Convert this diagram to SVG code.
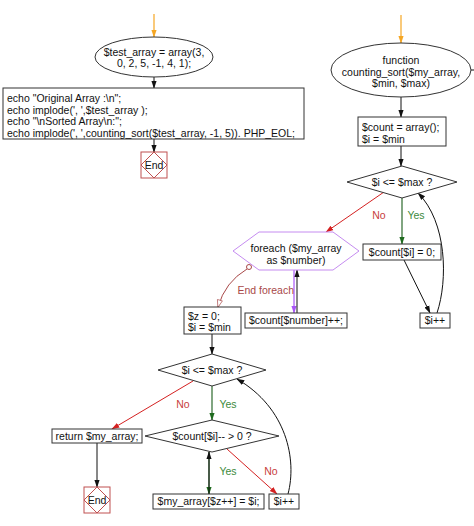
<svg xmlns="http://www.w3.org/2000/svg" width="474" height="526" viewBox="0 0 474 526">
<style>
text{font-family:"Liberation Sans",Arial,sans-serif;font-size:10.5px;fill:#111}
.c{text-anchor:middle}
.box{fill:#fff;stroke:#333;stroke-width:1}
.shape{fill:#fff;stroke:#333;stroke-width:1}
.hex{fill:#fff;stroke:#c58cf0;stroke-width:1}
.endb{fill:#fff;stroke:#c05050;stroke-width:1}
.k{fill:none;stroke:#111;stroke-width:1}
.g{fill:none;stroke:#2d6a2d;stroke-width:1.2}
.r{fill:none;stroke:#d42020;stroke-width:1}
.o{fill:none;stroke:#f5a623;stroke-width:1.2}
.p{fill:none;stroke:#a855f7;stroke-width:1.2}
.br{fill:none;stroke:#a84848;stroke-width:1}
.lno{fill:#c84040}
.lyes{fill:#3c8a3c}
.lef{fill:#a84848}
</style>
<defs>
<marker id="ak" markerWidth="8" markerHeight="12" refX="11" refY="4" viewBox="0 0 12 8" orient="auto" markerUnits="userSpaceOnUse"><path d="M0,0 L12,4 L0,8 z" fill="#111"/></marker>
<marker id="ag" markerWidth="8" markerHeight="12" refX="11" refY="4" viewBox="0 0 12 8" orient="auto" markerUnits="userSpaceOnUse"><path d="M0,0 L12,4 L0,8 z" fill="#1f6b1f"/></marker>
<marker id="ar" markerWidth="8" markerHeight="12" refX="11" refY="4" viewBox="0 0 12 8" orient="auto" markerUnits="userSpaceOnUse"><path d="M0,0 L12,4 L0,8 z" fill="#d42020"/></marker>
<marker id="ao" markerWidth="8" markerHeight="12" refX="11" refY="4" viewBox="0 0 12 8" orient="auto" markerUnits="userSpaceOnUse"><path d="M0,0 L12,4 L0,8 z" fill="#f5a623"/></marker>
<marker id="ap" markerWidth="8" markerHeight="12" refX="11" refY="4" viewBox="0 0 12 8" orient="auto" markerUnits="userSpaceOnUse"><path d="M0,0 L12,4 L0,8 z" fill="#a855f7"/></marker>
<marker id="aopen" markerWidth="9" markerHeight="13" refX="11" refY="4" viewBox="-1 -1 14 10" orient="auto" markerUnits="userSpaceOnUse"><path d="M0,0 L12,4 L0,8 z" fill="#fff" stroke="#a84848" stroke-width="1"/></marker>
</defs>

<g id="connectors">
<line class="o" x1="154" y1="14" x2="154" y2="37" marker-end="url(#ao)"/>
<line class="k" x1="154" y1="77" x2="154" y2="88" marker-end="url(#ak)"/>
<line class="k" x1="154" y1="139" x2="154" y2="152" marker-end="url(#ak)"/>
<line class="o" x1="401" y1="15" x2="401" y2="43" marker-end="url(#ao)"/>
<line class="k" x1="401" y1="97" x2="401" y2="117" marker-end="url(#ak)"/>
<line class="k" x1="401" y1="146" x2="401" y2="166" marker-end="url(#ak)"/>
<line class="k" x1="471" y1="70" x2="474" y2="70"/>
<line class="r" x1="384" y1="192" x2="326" y2="232" marker-end="url(#ar)"/>
<line class="g" x1="402" y1="198" x2="402" y2="244" marker-end="url(#ag)"/>
<line class="k" x1="404" y1="260" x2="430" y2="313" marker-end="url(#ak)"/>
<path class="k" d="M437,313 C448,280 447,222 418,193" marker-end="url(#ak)"/>
<line class="p" x1="294" y1="270" x2="294" y2="313" marker-end="url(#ap)"/>
<line class="k" x1="297" y1="313" x2="297" y2="270" marker-end="url(#ak)"/>
<circle cx="249" cy="267" r="2.5" fill="#fff" stroke="#a84848" stroke-width="1"/>
<path class="br" d="M247,269 Q225,282 218,307" marker-end="url(#aopen)"/>
<line class="k" x1="212" y1="334" x2="212" y2="354" marker-end="url(#ak)"/>
<line class="r" x1="193" y1="381" x2="112" y2="429" marker-end="url(#ar)"/>
<line class="g" x1="212" y1="386" x2="212" y2="420" marker-end="url(#ag)"/>
<line class="k" x1="97" y1="443" x2="97" y2="487" marker-end="url(#ak)"/>
<line class="g" x1="209" y1="452" x2="209" y2="494" marker-end="url(#ag)"/>
<line class="k" x1="209" y1="494" x2="209" y2="452" marker-end="url(#ak)"/>
<line class="r" x1="227" y1="449" x2="277" y2="494" marker-end="url(#ar)"/>
<path class="k" d="M288,494 C297,460 287,408 237,379" marker-end="url(#ak)"/>
<text class="c lno" x="379" y="219">No</text>
<text class="c lyes" x="416" y="219">Yes</text>
<text class="lef" x="294" y="294" text-anchor="end">End foreach</text>
<text class="c lno" x="183" y="408">No</text>
<text class="c lyes" x="228" y="408">Yes</text>
<text class="c lyes" x="228" y="475">Yes</text>
<text class="c lno" x="271" y="475">No</text>
</g>

<g id="start1">
<ellipse class="shape" cx="154" cy="57" rx="59" ry="20"/>
<text class="c" x="154" y="56">$test_array = array(3,</text>
<text class="c" x="154" y="67">0, 2, 5, -1, 4, 1);</text>
</g>

<g id="echo">
<rect class="box" x="3" y="88" width="301" height="51"/>
<text x="7" y="102">echo "Original Array :\n";</text>
<text x="7" y="113.5">echo implode(', ',$test_array );</text>
<text x="7" y="125">echo "\nSorted Array\n:";</text>
<text x="7" y="136.5">echo implode(', ',counting_sort($test_array, -1, 5)). PHP_EOL;</text>
</g>

<g id="end1">
<rect class="endb" x="141" y="152" width="26" height="26"/>
<path class="endb" d="M154,152 L167,165 L154,178 L141,165 z"/>
<text class="c" x="154" y="169">End</text>
</g>

<g id="func">
<ellipse class="shape" cx="401" cy="70" rx="70" ry="27"/>
<text class="c" x="401" y="64">function</text>
<text class="c" x="401" y="76">counting_sort($my_array,</text>
<text class="c" x="401" y="87">$min, $max)</text>
</g>

<g id="init">
<rect class="box" x="358" y="117" width="88" height="29"/>
<text x="362" y="131">$count = array();</text>
<text x="362" y="143">$i = $min</text>
</g>

<g id="cond1">
<path class="shape" d="M402,166 L457,182 L402,198 L347,182 z"/>
<text class="c" x="402" y="186">$i &lt;= $max ?</text>
</g>

<g id="zero">
<rect class="box" x="363" y="244" width="78" height="16"/>
<text class="c" x="402" y="256">$count[$i] = 0;</text>
</g>

<g id="inc1">
<rect class="box" x="420" y="313" width="30" height="15"/>
<text class="c" x="435" y="324">$i++</text>
</g>

<g id="foreach">
<path class="hex" d="M233,251 L259,232 L333,232 L359,251 L333,270 L259,270 z"/>
<text class="c" x="296" y="252">foreach ($my_array</text>
<text class="c" x="296" y="264">as $number)</text>
</g>

<g id="countnum">
<rect class="box" x="245" y="313" width="102" height="15"/>
<text class="c" x="296" y="324">$count[$number]++;</text>
</g>

<g id="zinit">
<rect class="box" x="184" y="307" width="57" height="27"/>
<text x="188" y="320">$z = 0;</text>
<text x="188" y="331">$i = $min</text>
</g>

<g id="cond2">
<path class="shape" d="M212,354 L266,370 L212,386 L158,370 z"/>
<text class="c" x="212" y="374">$i &lt;= $max ?</text>
</g>

<g id="cond3">
<path class="shape" d="M212,420 L279,436 L212,452 L145,436 z"/>
<text class="c" x="212" y="440">$count[$i]-- &gt; 0 ?</text>
</g>

<g id="ret">
<rect class="box" x="52" y="429" width="90" height="14"/>
<text class="c" x="97" y="440">return $my_array;</text>
</g>

<g id="end2">
<rect class="endb" x="84" y="487" width="26" height="26"/>
<path class="endb" d="M97,487 L110,500 L97,513 L84,500 z"/>
<text class="c" x="97" y="504">End</text>
</g>

<g id="assign">
<rect class="box" x="153" y="494" width="111" height="15"/>
<text class="c" x="208.5" y="505">$my_array[$z++] = $i;</text>
</g>

<g id="inc2">
<rect class="box" x="269" y="494" width="30" height="15"/>
<text class="c" x="284" y="505">$i++</text>
</g>
</svg>
